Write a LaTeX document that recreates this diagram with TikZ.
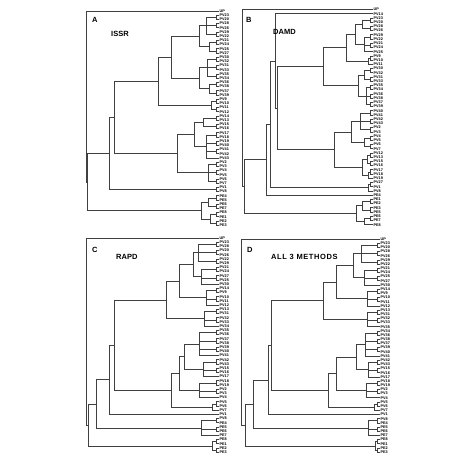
\documentclass[tikz,border=0pt]{standalone}
\usepackage{fontspec}
\setmainfont{Liberation Sans}
\usetikzlibrary{calc}
\pgfmathdeclarefunction{yleaf}{1}{\pgfmathparse{\yz+\dy*#1}}
\tikzset{
  ln/.style={black!75,line width=0.75pt},
  leafname/.style={anchor=west,inner sep=0.4pt,font=\fontsize{3.8}{3.8}\selectfont\bfseries},
  panel/.style={anchor=west,inner sep=0pt,font=\fontsize{7.5}{7.5}\selectfont\bfseries}
}
\newcommand{\leafs}[2]{%
  \foreach \t [count=\k from 0] in {#2}
    \node[leafname] (#1\k) at (\xl,{yleaf(\k)}) {\t};
}
\newcommand{\clade}[4]{%
  \pgfmathtruncatemacro{\cn}{#4-#3+1}%
  \pgfmathtruncatemacro{\codd}{mod(\cn,2)}%
  \pgfmathtruncatemacro{\cnp}{(\cn-\codd)/2-1}%
  \foreach \p in {0,...,\cnp}{%
    \pgfmathsetmacro{\cst}{#3+2*\p}%
    \draw[ln] (\xl,{yleaf(\cst)}) -| ({\xl-3},{yleaf(\cst+1)}) -- (\xl,{yleaf(\cst+1)});
    \draw[ln] ({\xl-3},{yleaf(\cst+0.5)}) -- (#2,{yleaf(\cst+0.5)});
  }%
  \ifnum\codd=1
    \draw[ln] (\xl,{yleaf(#4)}) -- (#2,{yleaf(#4)});
    \pgfmathsetmacro{\clast}{#4}%
  \else
    \pgfmathsetmacro{\clast}{#4-0.5}%
  \fi
  \draw[ln] (#2,{yleaf(#3+0.5)}) -- (#2,{yleaf(\clast)});
  \coordinate (#1) at (#2,{yleaf((#3+0.5+\clast)/2)});
}
\newcommand{\brk}[4]{%
  \coordinate (jx) at (#2,0);
  \draw[ln] (#3) -- (#3 -| jx) -- (#4 -| jx) -- (#4);
  \coordinate (#1) at ($(#3 -| jx)!0.5!(#4 -| jx)$);
}
\begin{document}
\begin{tikzpicture}[x=1pt,y=-1pt]
  \useasboundingbox[fill=white] (0,0) rectangle (474,467);
  % A
  \def\xl{219}\def\yz{11}\def\dy{4.2}
  \leafs{aL}{UP,PV23,PV20,PV28,PV26,PV29,PV22,PV21,PV24,PV25,PV27,PV30,PV32,PV31,PV33,PV35,PV34,PV36,PV38,PV37,PV39,PV9,PV10,PV11,PV12,PV14,PV13,PV15,PV16,PV17,PV18,PV19,PV40,PV41,PV42,PV43,PV2,PV3,PV4,PV5,PV6,PV7,PV1,PV8,PE4,PE5,PE6,PE7,PE8,PE1,PE2,PE3}
  \clade{a1a}{206}{1}{6}
  \clade{a1b}{209}{7}{10}
  \brk{a1}{199}{a1a}{a1b}
  \clade{a2a}{207}{11}{16}
  \clade{a2b}{209}{17}{20}
  \brk{a2}{199}{a2a}{a2b}
  \brk{a12}{171}{a1}{a2}
  \clade{a3}{211}{21}{24}
  \brk{a123}{158}{a12}{a3}
  \clade{a4a}{203}{25}{28}
  \clade{a4b}{206}{29}{35}
  \brk{a4}{194}{a4a}{a4b}
  \clade{a5}{208}{36}{41}
  \brk{a45}{177}{a4}{a5}
  \brk{aN3}{114}{a123}{a45}
  \clade{a6}{216}{42}{43}
  \brk{aN2}{109}{aN3}{a6}
  \clade{a7a}{208}{44}{47}
  \clade{a7b}{210}{48}{51}
  \brk{a7}{201}{a7a}{a7b}
  \brk{aN1}{87}{aN2}{a7}
  \brk{aR}{86}{aL0.west}{aN1}
  \node[panel] (tA) at (92,20) {A};
  \node[panel] (nA) at (111,34) {ISSR};
  % B
  \def\xl{373}\def\yz{9.5}\def\dy{4.22}
  \leafs{bL}{UP,PV14,PV23,PV20,PV28,PV26,PV29,PV22,PV21,PV24,PV25,PV9,PV10,PV11,PV30,PV32,PV31,PV33,PV35,PV34,PV36,PV38,PV37,PV39,PV40,PV41,PV42,PV43,PV2,PV3,PV4,PV5,PV6,PV7,PV12,PV13,PV15,PV16,PV17,PV18,PV19,PV27,PV1,PV8,PE4,PE1,PE2,PE3,PE5,PE6,PE7,PE8}
  \clade{b2a}{362}{2}{5}
  \clade{b2b}{364}{6}{10}
  \brk{b2}{355}{b2a}{b2b}
  \clade{b3}{368}{11}{13}
  \brk{b23}{346}{b2}{b3}
  \clade{b4a}{364}{14}{17}
  \clade{b4b}{366}{18}{23}
  \brk{b4}{358}{b4a}{b4b}
  \brk{bN6}{323}{b23}{b4}
  \clade{b5a}{360}{24}{29}
  \clade{b5b}{364}{30}{33}
  \brk{b5}{351}{b5a}{b5b}
  \clade{b6a}{367}{34}{37}
  \clade{b6b}{368}{38}{40}
  \brk{b6}{362}{b6a}{b6b}
  \brk{bN7}{334}{b5}{b6}
  \brk{bN5}{277}{bN6}{bN7}
  \brk{bN4}{275}{bL1.west}{bN5}
  \clade{bP}{368}{41}{43}
  \brk{bN3}{270}{bN4}{bP}
  \brk{bN2}{266}{bN3}{bL44.west}
  \clade{bCa}{362}{45}{48}
  \clade{bCb}{364}{49}{51}
  \brk{bC}{356}{bCa}{bCb}
  \brk{bN1}{244}{bN2}{bC}
  \brk{bR}{242}{bL0.west}{bN1}
  \node[panel] (tB) at (246,20) {B};
  \node[panel] (nB) at (273,32) {DAMD};
  % C
  \def\xl{219}\def\yz{238}\def\dy{4.2}
  \leafs{cL}{UP,PV23,PV28,PV20,PV26,PV22,PV29,PV21,PV24,PV27,PV25,PV30,PV14,PV9,PV10,PV11,PV12,PV13,PV31,PV32,PV33,PV34,PV35,PV36,PV37,PV38,PV39,PV40,PV41,PV42,PV43,PV15,PV16,PV17,PV18,PV19,PV2,PV3,PV4,PV5,PV6,PV7,PV1,PV8,PE4,PE5,PE6,PE7,PE8,PE1,PE2,PE3}
  \clade{c1a}{198}{1}{6}
  \clade{c1b}{201}{7}{11}
  \brk{c1}{193}{c1a}{c1b}
  \clade{c2}{206}{12}{16}
  \brk{c12}{179}{c1}{c2}
  \clade{c3}{204}{17}{21}
  \brk{cN5}{166}{c12}{c3}
  \clade{c9a}{199}{22}{28}
  \clade{c9b}{203}{29}{33}
  \brk{c9}{184}{c9a}{c9b}
  \clade{c8b}{199}{34}{38}
  \brk{c8}{179}{c9}{c8b}
  \clade{c6b}{212}{39}{41}
  \brk{cN6}{171}{c8}{c6b}
  \brk{cN4}{114}{cN5}{cN6}
  \brk{cN3}{109}{cN4}{cL42.west}
  \clade{c4}{201}{43}{47}
  \brk{cN2}{96}{cN3}{c4}
  \clade{c5}{212}{48}{51}
  \brk{cN1}{88}{cN2}{c5}
  \brk{cR}{86}{cL0.west}{cN1}
  \node[panel] (tC) at (92,250) {C};
  \node[panel] (nC) at (116,257) {RAPD};
  % D
  \def\xl{380}\def\yz{239}\def\dy{4.18}
  \leafs{dL}{UP,PV23,PV20,PV28,PV26,PV29,PV22,PV21,PV24,PV25,PV27,PV30,PV14,PV9,PV10,PV11,PV12,PV13,PV31,PV32,PV33,PV35,PV34,PV36,PV38,PV37,PV39,PV40,PV41,PV42,PV43,PV15,PV16,PV17,PV18,PV19,PV2,PV3,PV4,PV5,PV6,PV7,PV1,PV8,PE4,PE5,PE6,PE7,PE8,PE1,PE2,PE3}
  \clade{d1a}{361}{1}{6}
  \clade{d1b}{364}{7}{11}
  \brk{d1}{353}{d1a}{d1b}
  \clade{d2}{367}{12}{16}
  \brk{d12}{336}{d1}{d2}
  \clade{d3}{367}{17}{21}
  \brk{dN5}{323}{d12}{d3}
  \clade{d9a}{365}{22}{28}
  \clade{d9b}{368}{29}{33}
  \brk{d9}{356}{d9a}{d9b}
  \clade{d8b}{366}{34}{38}
  \brk{d8}{336}{d9}{d8b}
  \clade{d6b}{374}{39}{41}
  \brk{dN6}{328}{d8}{d6b}
  \brk{dN4}{271}{dN5}{dN6}
  \brk{dN3}{268}{dN4}{dL42.west}
  \clade{d4}{368}{43}{47}
  \brk{dN2}{253}{dN3}{d4}
  \clade{d5}{375}{48}{51}
  \brk{dN1}{245}{dN2}{d5}
  \brk{dR}{241}{dL0.west}{dN1}
  \node[panel] (tD) at (247,250) {D};
  \node[panel] (nD) at (271,257) {\addfontfeature{LetterSpace=8}ALL 3 METHODS};
\end{tikzpicture}
\end{document}
